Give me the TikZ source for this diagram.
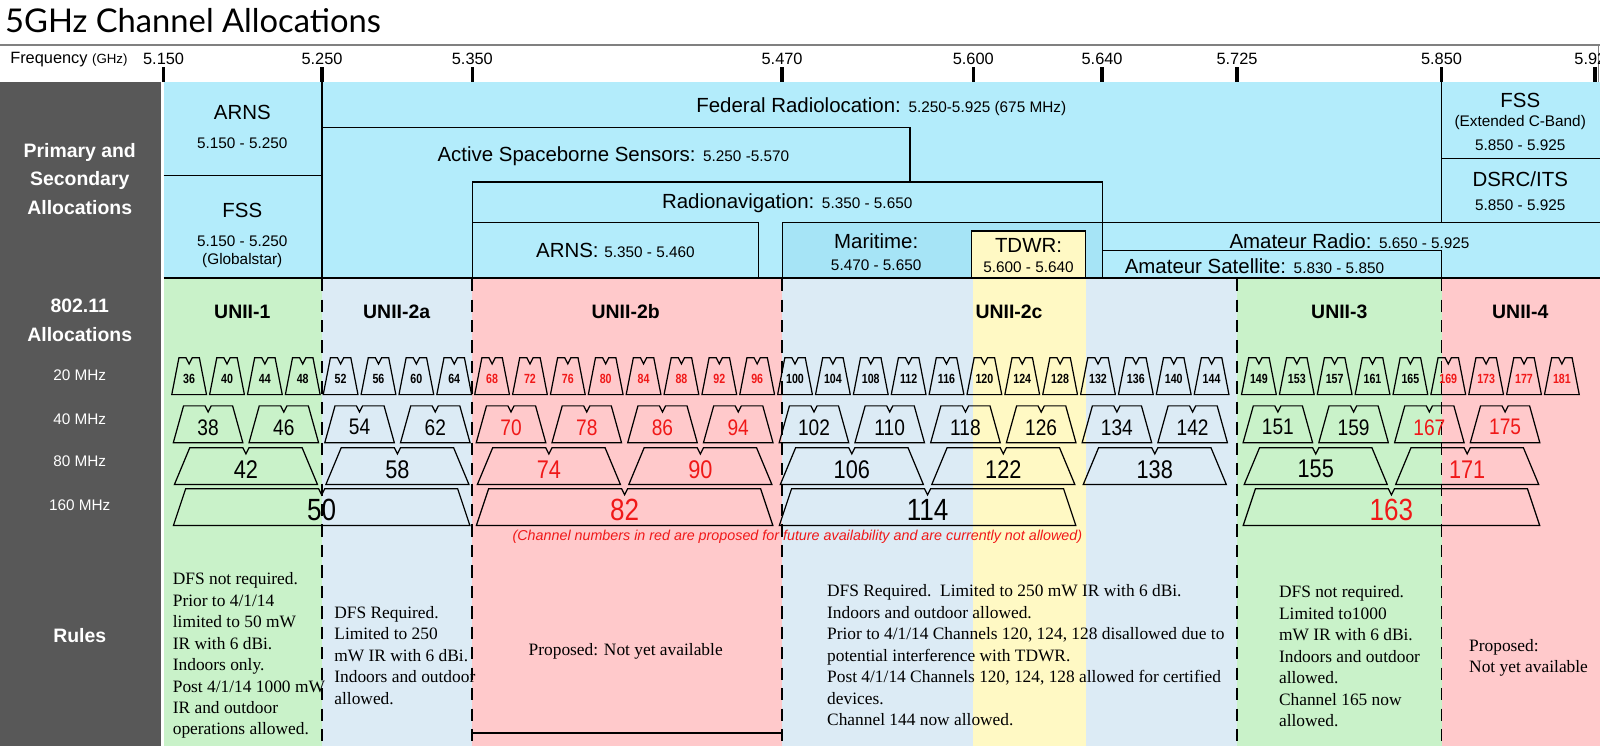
\documentclass[tikz,border=0pt]{standalone}
\usepackage{fontspec}
\setmainfont{Liberation Sans}
\newfontfamily\rulefont{Liberation Serif}
\newfontfamily\titlefont{Lato}
\definecolor{skyb}{HTML}{B3ECFB}
\definecolor{marit}{HTML}{A6E4F6}
\definecolor{tdwr}{HTML}{FFF9C4}
\definecolor{ugreen}{HTML}{C9F2C9}
\definecolor{ublue}{HTML}{DCEBF5}
\definecolor{upink}{HTML}{FFC9CB}
\definecolor{sidegray}{HTML}{585858}
\definecolor{chred}{HTML}{F01818}
\newcommand\fs[2]{\fontsize{#1pt}{#2pt}\selectfont}
% one channel: centre x, top y, bottom y, half bottom, half top, label, colour, style
\newcommand\chantrap[8]{%
  \draw[chan] ({#1-#4},#3) -- ({#1-#5},#2) -- ({#1-3},#2) -- (#1,{#2+6})
    -- ({#1+3},#2) -- ({#1+#5},#2) -- ({#1+#4},#3) -- cycle;
  \node[#8,text=#7] (c#6) at (#1,{(#2+#3)/2+3}) {#6};}

\begin{document}
\begin{tikzpicture}[x=0.5pt,y=-0.5pt,
    line/.style={black,line width=0.6pt},
    chan/.style={black,line width=0.6pt},
    big/.style={font=\fs{10}{12}},
    small/.style={font=\fs{7.5}{9}},
    side/.style={white,font=\bfseries\fs{9.5}{14},align=center},
    rate/.style={white,font=\fs{7.5}{9}},
    unii/.style={font=\bfseries\fs{9.5}{11}},
    rule/.style={font=\rulefont\fs{8.5}{10.5},align=left,anchor=north west},
    n20/.style={font=\bfseries\fs{6.5}{7},xscale=0.8},
    n40/.style={font=\fs{11}{12},xscale=0.85},
    n80/.style={font=\fs{12.5}{13},xscale=0.85},
    n160/.style={font=\fs{15}{16},xscale=0.85},
    tick/.style={line width=1.6pt}]
\node[anchor=west,font=\titlefont\fs{16}{18}] (title) at (-2,20) {5GHz Channel Allocations};
\draw[gray,line width=0.8pt] (0,44) -- (1565,44);
\draw[gray] (1563,44) -- (1563,80);
% frequency axis
\node[anchor=west,font=\fs{8}{9}] (freq) at (3,58) {Frequency {\fs{6.5}{8}(GHz)}};
\foreach \x/\f in {160/5.150,315/5.250,462/5.350,765/5.470,952/5.600,1078/5.640,1210/5.725,1410/5.850,1560/5.925}{
  \node[font=\fs{8}{9}] (f\x) at (\x,58) {\f};
  \draw[tick] (\x,66) -- (\x,80);
}
% left column
\fill[sidegray] (0,80) rectangle (157,730);
\node[side] (prim) at (78,175) {Primary and\\Secondary\\Allocations};
\node[side] (alloc) at (78,313) {802.11\\Allocations};
\node[rate] (r20) at (78,367) {20 MHz};
\node[rate] (r40) at (78,410) {40 MHz};
\node[rate] (r80) at (78,451) {80 MHz};
\node[rate] (r160) at (78,494) {160 MHz};
\node[side] (rules) at (78,622) {Rules};
% primary and secondary allocations
\fill[skyb] (160,80) rectangle (1565,272);
\fill[marit] (765,218) rectangle (1078,272);
\draw[line,fill=tdwr] (950,272) -- (950,226) -- (1062,226) -- (1062,272);
\draw[line] (315,80) -- (315,272);
\draw[line] (160,172) -- (315,172);
\draw[line] (315,125) -- (890,125) -- (890,178);
\draw[line] (462,272) -- (462,178) -- (1078,178) -- (1078,272);
\draw[line] (462,218) -- (742,218) -- (742,272);
\draw[line] (765,272) -- (765,218) -- (1078,218);
\draw[line] (1078,218) -- (1565,218);
\draw[line] (1078,245) -- (1410,245) -- (1410,272);
\draw[line] (1410,80) -- (1410,218);
\draw[line] (1410,155) -- (1565,155);
\node[big] (arns1) at (237,110) {ARNS};
\node[small] (arns1f) at (237,140) {5.150 - 5.250};
\node[big] (fss1) at (237,206) {FSS};
\node[small,align=center] (fss1f) at (237,246) {5.150 - 5.250\\(Globalstar)};
\node[big] (fedr) at (862,104) {Federal Radiolocation: {\fs{7.5}{9}5.250-5.925 (675 MHz)}};
\node[big] (ass) at (600,153) {Active Spaceborne Sensors: {\fs{7.5}{9}5.250 -5.570}};
\node[big] (radn) at (770,199) {Radionavigation: {\fs{7.5}{9}5.350 - 5.650}};
\node[big] (arns2) at (602,245) {ARNS: {\fs{7.5}{9}5.350 - 5.460}};
\node[big] (mar) at (857,236) {Maritime:};
\node[small] (marf) at (857,259) {5.470 - 5.650};
\node[big] (tdw) at (1006,240) {TDWR:};
\node[small] (tdwf) at (1006,261) {5.600 - 5.640};
\node[big] (amr) at (1320,236) {Amateur Radio: {\fs{7.5}{9}5.650 - 5.925}};
\node[big] (ams) at (1227,260) {Amateur Satellite: {\fs{7.5}{9}5.830 - 5.850}};
\node[big] (fss2) at (1487,98) {FSS};
\node[small] (fss2e) at (1487,120) {(Extended C-Band)};
\node[small] (fss2f) at (1487,142) {5.850 - 5.925};
\node[big] (dsrc) at (1487,175) {DSRC/ITS};
\node[small] (dsrcf) at (1487,201) {5.850 - 5.925};
\draw[line] (160,272) -- (1565,272);
% 802.11 bands
\fill[ugreen] (160,273) rectangle (315,730);
\fill[ublue] (315,273) rectangle (462,730);
\fill[upink] (462,273) rectangle (765,730);
\fill[ublue] (765,273) rectangle (1210,730);
\fill[tdwr] (952,273) rectangle (1062,730);
\fill[ugreen] (1210,273) rectangle (1410,730);
\fill[upink] (1410,273) rectangle (1565,730);
\foreach \x in {315,462,765,1210,1410}
  \draw[dashed,line width=0.9pt,dash pattern=on 6pt off 4pt] (\x,273) -- (\x,730);
\draw[line] (462,717) -- (765,717);
\foreach \x/\u in {237/UNII-1,388/UNII-2a,612/UNII-2b,987/UNII-2c,1310/UNII-3,1487/UNII-4}
  \node[unii] (h\u) at (\x,305) {\u};
% 20 MHz
\foreach \c/\col in {36/black,40/black,44/black,48/black,52/black,56/black,60/black,64/black,
    68/chred,72/chred,76/chred,80/chred,84/chred,88/chred,92/chred,96/chred,
    100/black,104/black,108/black,112/black,116/black,120/black,124/black,128/black,
    132/black,136/black,140/black,144/black,149/black,153/black,157/black,161/black,165/black,
    169/chred,173/chred,177/chred,181/chred}{
  \pgfmathsetmacro\cx{185+(\c-36)*9.26}
  \chantrap{\cx}{350}{386}{17}{10}{\c}{\col}{n20}
}
% 40 MHz
\foreach \c/\col in {38/black,46/black,54/black,62/black,70/chred,78/chred,86/chred,94/chred,
    102/black,110/black,118/black,126/black,134/black,142/black,151/black,159/black,167/chred,175/chred}{
  \pgfmathsetmacro\cx{185+(\c-36)*9.26}
  \chantrap{\cx}{397}{433}{34}{24}{\c}{\col}{n40}
}
% 80 MHz
\foreach \c/\col in {42/black,58/black,74/chred,90/chred,106/black,122/black,138/black,155/black,171/chred}{
  \pgfmathsetmacro\cx{185+(\c-36)*9.26}
  \chantrap{\cx}{438}{474}{70}{55}{\c}{\col}{n80}
}
% 160 MHz
\foreach \c/\col in {50/black,82/chred,114/black,163/chred}{
  \pgfmathsetmacro\cx{185+(\c-36)*9.26}
  \chantrap{\cx}{478}{514}{145}{133}{\c}{\col}{n160}
}
\node[text=chred,font=\itshape\fs{7}{8}] (note) at (780,525)
  {(Channel numbers in red are proposed for future availability and are currently not allowed)};
% rules
\node[rule] (ru1) at (162,553) {DFS not required.\\Prior to 4/1/14\\limited to 50 mW\\IR with 6 dBi.\\Indoors only.\\Post 4/1/14 1000 mW\\IR and outdoor\\operations allowed.};
\node[rule] (ru2a) at (320,586) {DFS Required.\\Limited to 250\\mW IR with 6 dBi.\\Indoors and outdoor\\allowed.};
\node[font=\rulefont\fs{8.5}{10.5}] (ru2b) at (612,637) {Proposed: Not yet available};
\node[rule] (ru2c) at (802,565) {DFS Required.\ \ Limited to 250 mW IR with 6 dBi.\\Indoors and outdoor allowed.\\Prior to 4/1/14 Channels 120, 124, 128 disallowed due to\\potential interference with TDWR.\\Post 4/1/14 Channels 120, 124, 128 allowed for certified\\devices.\\Channel 144 now allowed.};
\node[rule] (ru3) at (1244,566) {DFS not required.\\Limited to1000\\mW IR with 6 dBi.\\Indoors and outdoor\\allowed.\\Channel 165 now\\allowed.};
\node[rule] (ru4) at (1430,618) {Proposed:\\Not yet available};
\pgfresetboundingbox
\useasboundingbox (0pt,0pt) rectangle (782.5pt,-366.8pt);
\end{tikzpicture}
\end{document}
